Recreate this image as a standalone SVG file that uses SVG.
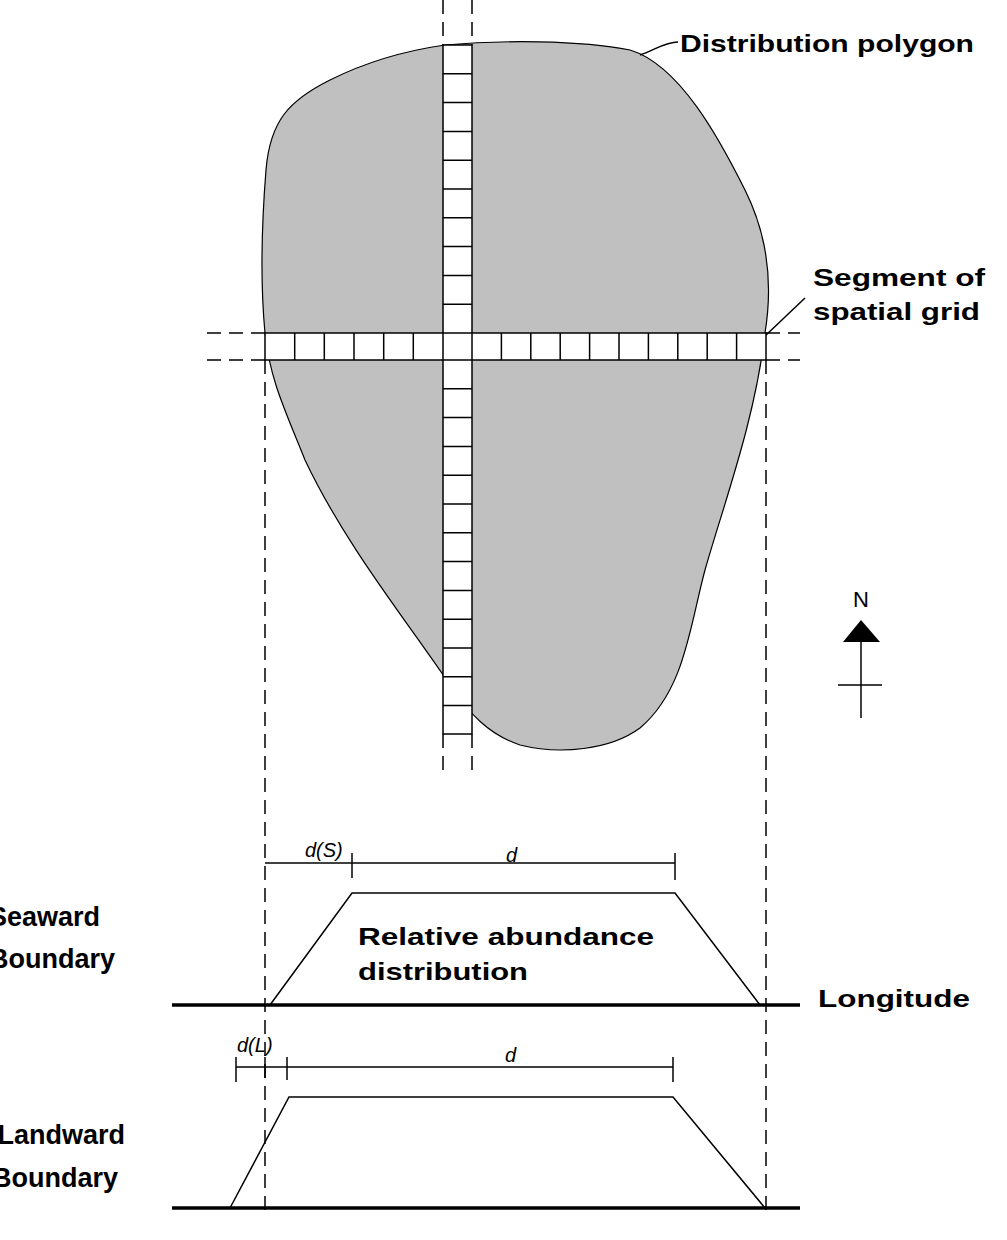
<svg xmlns="http://www.w3.org/2000/svg" width="1007" height="1240" viewBox="0 0 1007 1240">
<style>
text{font-family:"Liberation Sans",Arial,sans-serif;fill:#000}
.lbl{font-size:24px;font-weight:bold}
.side{font-size:27px;font-weight:bold}
.dim{font-size:20px;font-style:italic}
.ln{stroke:#000;stroke-width:1.5;fill:none}
.dash{stroke:#000;stroke-width:1.5;fill:none;stroke-dasharray:14,8}
.base{stroke:#000;stroke-width:3.5}
.cell{fill:#fff;stroke:#000;stroke-width:1.5}
</style>
<rect width="1007" height="1240" fill="#fff"/>
<g id="polygon">
<path d="M445,45 C500,40 580,40 630,50 C680,65 720,140 745,190 C770,240 772,290 765,333 C755,420 725,500 705,570 C690,625 685,690 640,728 C610,750 560,755 520,745 C490,735 470,715 450,685 C410,625 345,545 305,460 C285,410 270,380 265,333 C260,280 262,220 266,170 C270,120 290,100 330,80 C370,60 410,50 445,45 Z" fill="#c0c0c0" stroke="#000" stroke-width="1.2"/>
</g>
<g id="connectors">
<line class="dash" x1="443" y1="0" x2="443" y2="45"/>
<line class="dash" x1="472" y1="0" x2="472" y2="45"/>
<line class="dash" x1="443" y1="734" x2="443" y2="770"/>
<line class="dash" x1="472" y1="734" x2="472" y2="770"/>
<line class="dash" x1="207" y1="333" x2="265" y2="333"/>
<line class="dash" x1="207" y1="360" x2="265" y2="360"/>
<line class="dash" x1="766" y1="333" x2="800" y2="333"/>
<line class="dash" x1="766" y1="360" x2="800" y2="360"/>
<line class="dash" x1="265" y1="360" x2="265" y2="1210"/>
<line class="dash" x1="766" y1="360" x2="766" y2="1210"/>
<path class="ln" d="M640,55 C655,50 665,42 678,42"/>
<line class="ln" x1="764" y1="337" x2="805" y2="298"/>
</g>
<g id="grid">
<rect class="cell" x="265" y="333" width="501" height="27"/>
<rect class="cell" x="443" y="45" width="29" height="689"/>
<g class="ln">
<path d="M294.7,333v27M324.3,333v27M354,333v27M383.7,333v27M413.3,333v27M501.4,333v27M530.8,333v27M560.2,333v27M589.6,333v27M619,333v27M648.4,333v27M677.8,333v27M707.2,333v27M736.6,333v27"/>
<path d="M443,73.8h29M443,102.6h29M443,131.4h29M443,160.2h29M443,189h29M443,217.8h29M443,246.6h29M443,275.4h29M443,304.2h29M443,333h29M443,360h29M443,388.8h29M443,417.6h29M443,446.4h29M443,475.2h29M443,504h29M443,532.8h29M443,561.6h29M443,590.4h29M443,619.2h29M443,648h29M443,676.8h29M443,705.6h29"/>
</g>
</g>
<g id="labels">
<text class="lbl" x="680" y="52" textLength="294" lengthAdjust="spacingAndGlyphs">Distribution polygon</text>
<text class="lbl" x="813" y="286" textLength="172" lengthAdjust="spacingAndGlyphs">Segment of</text>
<text class="lbl" x="813" y="320" textLength="167" lengthAdjust="spacingAndGlyphs">spatial grid</text>
</g>
<g id="north">
<polygon points="861,620 843,642 880,642" fill="#000"/>
<line class="ln" x1="861" y1="642" x2="861" y2="718" stroke-width="2"/>
<line class="ln" x1="838" y1="685" x2="882" y2="685" stroke-width="2"/>
<text x="861" y="607" font-size="22" text-anchor="middle">N</text>
</g>
<g id="seaward">
<line class="base" x1="172" y1="1005" x2="800" y2="1005"/>
<polyline class="ln" points="270,1005 352,893 675,893 760,1005"/>
<line class="ln" x1="265" y1="863" x2="675" y2="863"/>
<line class="ln" x1="352" y1="853" x2="352" y2="878"/>
<line class="ln" x1="675" y1="853" x2="675" y2="880"/>
<text class="dim" x="305" y="857">d(S)</text>
<text class="dim" x="506" y="862">d</text>
<text class="lbl" x="358" y="945" textLength="296" lengthAdjust="spacingAndGlyphs">Relative abundance</text>
<text class="lbl" x="358" y="980" textLength="170" lengthAdjust="spacingAndGlyphs">distribution</text>
<text class="side" x="100" y="926" text-anchor="end">Seaward</text>
<text class="side" x="115" y="968" text-anchor="end">Boundary</text>
<text class="lbl" x="818" y="1007" textLength="152" lengthAdjust="spacingAndGlyphs">Longitude</text>
</g>
<g id="landward">
<line class="base" x1="172" y1="1208" x2="800" y2="1208"/>
<polyline class="ln" points="230,1208 289,1097 673,1097 765,1208"/>
<line class="ln" x1="236" y1="1067" x2="673" y2="1067"/>
<line class="ln" x1="236" y1="1057" x2="236" y2="1082"/>
<line class="ln" x1="265" y1="1057" x2="265" y2="1078"/>
<line class="ln" x1="287" y1="1057" x2="287" y2="1080"/>
<line class="ln" x1="673" y1="1057" x2="673" y2="1082"/>
<text class="dim" x="237" y="1052">d(L)</text>
<text class="dim" x="505" y="1062">d</text>
<text class="side" x="125" y="1144" text-anchor="end">Landward</text>
<text class="side" x="118" y="1187" text-anchor="end">Boundary</text>
</g>
</svg>
